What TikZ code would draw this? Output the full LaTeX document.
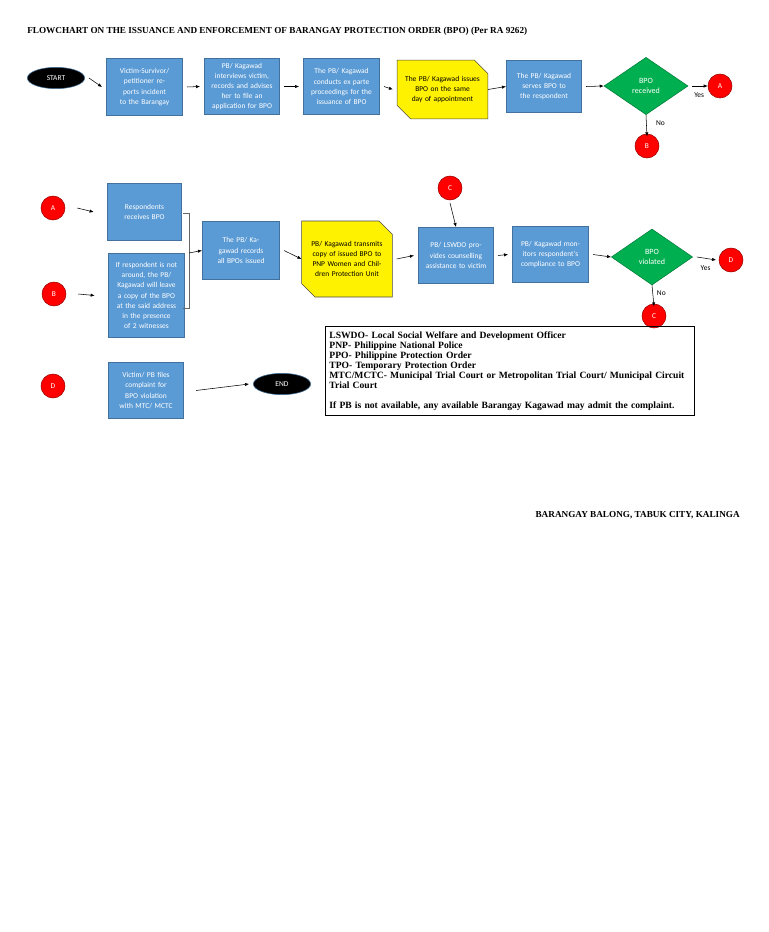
\documentclass[tikz,border=0pt]{standalone}
\usepackage{fontspec}
\setmainfont{Carlito}
\newfontfamily\serifb{Liberation Serif}
\usetikzlibrary{shapes.geometric,shapes.misc,arrows.meta}
\definecolor{boxblue}{HTML}{5B9BD5}
\definecolor{boxedge}{HTML}{41719C}
\definecolor{dgreen}{HTML}{00B050}
\tikzset{
 pbox/.style={draw=boxedge,fill=boxblue,text=white,align=center,font=\fontsize{5.6}{7.6}\selectfont,inner sep=1pt},
 ybox/.style={chamfered rectangle,chamfered rectangle corners={north east,south west},chamfered rectangle xsep=5pt,chamfered rectangle ysep=5pt,draw=black!70,fill=yellow,align=center,font=\fontsize{5.6}{7.6}\selectfont,inner sep=1pt},
 dia/.style={diamond,draw=dgreen!70!black,fill=dgreen,text=white,align=center,font=\fontsize{6}{8}\selectfont,aspect=1.45,inner sep=0pt},
 conn/.style={circle,draw=red!60!black,fill=red,text=white,minimum size=18pt,inner sep=0pt,font=\fontsize{5.6}{6}\selectfont},
 term/.style={ellipse,draw=boxedge,fill=black,text=white,minimum width=43pt,minimum height=16pt,inner sep=0pt,font=\fontsize{5.6}{6}\selectfont},
 arr/.style={-{Latex[length=3pt,width=2.5pt]},black,line width=0.4pt},
 lbl/.style={font=\fontsize{5.6}{6}\selectfont,inner sep=1pt}
}
\newcommand{\bx}[6]{\node[pbox,minimum width=#4*0.75pt-0.4pt,minimum height=#5*0.75pt-0.4pt,text width=#4*0.75pt-6pt] (#1) at (#2,#3) {#6};}
\begin{document}
\begin{tikzpicture}[x=0.75pt,y=-0.75pt]
\useasboundingbox (0,0) rectangle (768,932);
\fill[white] (0,0) rectangle (768,932);
\node[anchor=west,font=\serifb\bfseries\fontsize{6.9}{8}\selectfont,inner sep=0pt] (title) at (27,31) {FLOWCHART ON THE ISSUANCE AND ENFORCEMENT OF BARANGAY PROTECTION ORDER (BPO) (Per RA 9262)};
% row 1
\node[term] (start) at (56,78) {START};
\bx{b1}{144.5}{87}{77}{58}{Victim-Survivor/ petitioner reports incident to the Barangay}
\bx{b2}{242}{86.5}{76}{57}{PB/ Kagawad interviews victim, records and advises her to file an application for BPO}
\bx{b3}{341.5}{86.5}{77}{57}{The PB/ Kagawad conducts ex parte proceedings for the issuance of BPO}
\node[ybox,minimum width=66pt,minimum height=44pt,text width=56pt] (y1) at (442.5,89.5) {The PB/ Kagawad issues BPO on the same day of appointment};
\bx{b5}{544}{86.5}{76}{53}{The PB/ Kagawad serves BPO to the respondent}
\node[dia,minimum width=63pt,minimum height=43pt] (d1) at (646,86) {BPO\\received};
\node[conn] (A1) at (720,86) {A};
\node[conn] (B1) at (647,146) {B};
\draw[arr] ([xshift=3pt]start.east) -- ([xshift=-3pt]b1.west);
\draw[arr] ([xshift=3pt]b1.east) -- ([xshift=-3pt]b2.west);
\draw[arr] ([xshift=3pt]b2.east) -- ([xshift=-3pt]b3.west);
\draw[arr] ([xshift=3pt]b3.east) -- ([xshift=-3pt]y1.west);
\draw[arr] (y1.east) -- (b5.west);
\draw[arr] ([xshift=3pt]b5.east) -- (d1.west);
\draw[arr] ([xshift=3pt]d1.east) -- (A1.west) node[lbl,pos=0.45,below=4pt] {Yes};
\draw[arr] (d1.south) -- ([yshift=-2pt]B1.north) node[lbl,pos=0.4,right=6pt] {No};
% row 2
\node[conn] (A2) at (53,208) {A};
\node[conn] (B2) at (54,294) {B};
\bx{r1}{144.5}{212}{75}{58}{Respondents receives BPO\\[10pt]}
\bx{r2}{146.5}{295.5}{77}{85}{If respondent is not around, the PB/ Kagawad will leave a copy of the BPO at the said address in the presence of 2 witnesses}
\bx{rec}{241}{250.5}{78}{59}{The PB/ Kagawad records all BPOs issued\\[6pt]}
\node[ybox,minimum width=66pt,minimum height=57pt,text width=56pt] (y2) at (347,259) {PB/ Kagawad transmits copy of issued BPO to PNP Women and Children Protection Unit};
\bx{cou}{456}{255.5}{76}{57}{PB/ LSWDO provides counselling assistance to victim}
\node[conn] (C1) at (450,188) {C};
\bx{mon}{550.5}{254.5}{77}{57}{PB/ Kagawad monitors respondent's compliance to BPO}
\node[dia,minimum width=61pt,minimum height=42pt] (d2) at (652,257) {BPO\\violated};
\node[conn] (D1) at (731,260) {D};
\node[conn] (C2) at (654,316) {C};
\draw[arr] ([xshift=9pt]A2.east) -- ([xshift=-10pt]r1.west);
\draw[arr] ([xshift=9pt]B2.east) -- ([xshift=-10pt]r2.west);
\coordinate (bk1) at (183,213); \coordinate (bk2) at (183,308);
\draw[black!60,line width=0.4pt] (bk1) -- ++(6,0) |- (bk2);
\coordinate (bkm) at (189,253);
\draw[arr] (bkm) -- (rec.west);
\draw[arr] ([xshift=3pt]rec.east) -- (y2.west);
\draw[arr] ([xshift=3pt]y2.east) -- ([xshift=-3pt]cou.west);
\draw[arr] ([yshift=-2pt]C1.south) -- (cou.north);
\draw[arr] ([xshift=3pt]cou.east) -- ([xshift=-3pt]mon.west);
\draw[arr] ([xshift=3pt]mon.east) -- (d2.west);
\draw[arr] ([xshift=3pt]d2.east) -- ([xshift=-2pt]D1.west) node[lbl,pos=0.45,below=4pt] {Yes};
\draw[arr] (d2.south) -- ([yshift=-2pt]C2.north) node[lbl,pos=0.35,right=2pt] {No};
% row 3
\node[conn] (D2) at (53,386) {D};
\bx{vic}{146}{390.5}{76}{57}{Victim/ PB files complaint for BPO violation with MTC/ MCTC\\[6pt]}
\node[term] (end) at (282,384) {END};
\draw[arr] ([xshift=9pt]vic.east) -- ([xshift=-3pt]end.west);
% legend
\node[draw,line width=0.6pt,anchor=north west,minimum width=369*0.75pt,minimum height=89*0.75pt,text width=369*0.75pt-6pt,inner sep=2pt,align=left,font=\serifb\bfseries\fontsize{7.2}{7.5}\selectfont] (leg) at (325,326) {LSWDO- Local Social Welfare and Development Officer\\PNP- Philippine National Police\\PPO- Philippine Protection Order\\TPO- Temporary Protection Order\\MTC/MCTC- Municipal Trial Court or Metropolitan Trial Court/ Municipal Circuit Trial Court\\[7.5pt]If PB is not available, any available Barangay Kagawad may admit the complaint.};
\node[anchor=east,inner sep=0pt,font=\serifb\bfseries\fontsize{6.9}{8}\selectfont] (foot) at (740,515) {BARANGAY BALONG, TABUK CITY, KALINGA};
\end{tikzpicture}
\end{document}
